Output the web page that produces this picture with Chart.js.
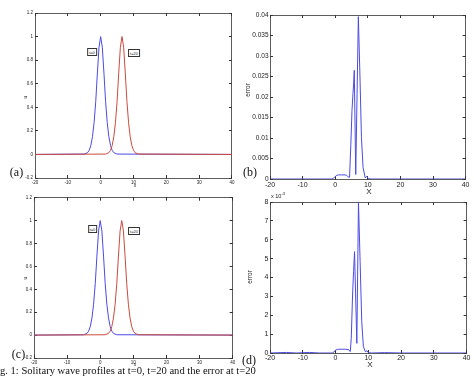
<!DOCTYPE html>
<html>
<head>
<meta charset="utf-8">
<script src="https://cdn.jsdelivr.net/npm/chart.js@4/dist/chart.umd.min.js"></script>
<style>
  html, body { margin:0; padding:0; background:#fff; }
  #root { position:relative; width:474px; height:379px; overflow:hidden; background:#fff; }
  canvas { position:absolute; }
  .t { position:absolute; white-space:nowrap; transform:translate(-50%,-50%); color:#222; line-height:1; }
  .serif { font-family:"Liberation Serif","Times New Roman",serif; color:#111; }
  .sans { font-family:"Liberation Sans",Arial,sans-serif; }
  .rot { transform:translate(-50%,-50%) rotate(-90deg); }
  .box { border:0.8px solid #333; padding:0.5px 1px; font-size:4px; background:#fff; }
</style>
</head>
<body>
<div id="root">
  <canvas id="ca" width="240" height="190" style="left:0;top:0"></canvas>
  <canvas id="cb" width="237" height="190" style="left:237px;top:0"></canvas>
  <canvas id="cc" width="240" height="189" style="left:0;top:190px"></canvas>
  <canvas id="cd" width="237" height="189" style="left:237px;top:190px"></canvas>

  <div class="t sans" style="left:92px;top:48.5px"><span class="box">t=0</span></div>
  <div class="t sans" style="left:134px;top:49.5px"><span class="box">t=20</span></div>
  <div class="t sans" style="left:92.5px;top:225.5px"><span class="box">t=0</span></div>
  <div class="t sans" style="left:134px;top:227px"><span class="box">t=20</span></div>

  <div class="t sans rot" style="left:25px;top:97px;font-size:5px">u</div>
  <div class="t sans" style="left:135px;top:184.5px;font-size:5px">x</div>
  <div class="t sans rot" style="left:25px;top:278px;font-size:5px">u</div>
  <div class="t sans" style="left:135px;top:364px;font-size:5px">x</div>

  <div class="t sans rot" style="left:248px;top:90px;font-size:6.5px">error</div>
  <div class="t sans" style="left:369px;top:192px;font-size:8px">X</div>
  <div class="t sans rot" style="left:250px;top:277px;font-size:6.5px">error</div>
  <div class="t sans" style="left:370px;top:365px;font-size:8px">X</div>
  <div class="t sans" style="left:278px;top:196px;font-size:5.5px">x 10<sup style="font-size:4px">-3</sup></div>

  <div class="t serif" style="left:16.5px;top:172px;font-size:12px">(a)</div>
  <div class="t serif" style="left:250px;top:172px;font-size:12px">(b)</div>
  <div class="t serif" style="left:18.5px;top:354px;font-size:12px">(c)</div>
  <div class="t serif" style="left:249px;top:360px;font-size:12px">(d)</div>

  <div id="cap" class="serif" style="position:absolute;left:0;top:366px;white-space:nowrap;font-size:12px;line-height:1;">g. 1: Solitary wave profiles at t=0, t=20 and the error at t=20</div>
</div>
<script>
// ---------------- data ----------------
const xTicks = [-20, -10, 0, 10, 20, 30, 40];
const xTickLabels = ['-20', '-10', '0', '10', '20', '30', '40'];

const uTicks = [-0.2, 0, 0.2, 0.4, 0.6, 0.8, 1, 1.2];
const uTickLabels = ['-0.2', '0', '0.2', '0.4', '0.6', '0.8', '1', '1.2'];

const errTicksB = [0, 0.005, 0.01, 0.015, 0.02, 0.025, 0.03, 0.035, 0.04];
const errTickLabelsB = ['0', '0.005', '0.01', '0.015', '0.02', '0.025', '0.03', '0.035', '0.04'];

const errTicksD = [0, 1, 2, 3, 4, 5, 6, 7, 8];
const errTickLabelsD = ['0', '1', '2', '3', '4', '5', '6', '7', '8'];

// solitary wave profile, t = 0
const waveX_t0 = [-20, -5, -4, -3.5, -3, -2.5, -2, -1.5, -1, -0.5, 0, 0.5, 1, 1.5, 2, 2.5, 3, 3.5, 4, 5, 40];
const waveU_t0 = [0, 0.003, 0.015, 0.035, 0.075, 0.15, 0.27, 0.45, 0.69, 0.91, 1, 0.91, 0.69, 0.45, 0.27, 0.15, 0.075, 0.035, 0.015, 0.003, 0];
// solitary wave profile, t = 20
const waveX_t20 = [-20, 1.5, 2.5, 3, 3.5, 4, 4.5, 5, 5.5, 6, 6.5, 7, 7.5, 8, 8.5, 9, 9.5, 10, 10.5, 11.5, 40];
const waveU_t20 = [0, 0.003, 0.015, 0.035, 0.075, 0.15, 0.27, 0.45, 0.69, 0.91, 1, 0.91, 0.69, 0.45, 0.27, 0.15, 0.075, 0.035, 0.015, 0.003, 0];

// error at t = 20, panel (b)
const errX_b = [-20, -1, -0.5, 0, 0.5, 1, 2, 3, 3.5, 4, 4.4, 4.8, 5.15, 5.45, 5.65, 5.85, 6.3, 7.1, 7.6, 8.05, 8.55, 9.2, 9.7, 10.2, 11, 40];
const errY_b = [0, 0, 0.0002, 0.0006, 0.0009, 0.001, 0.001, 0.001, 0.0009, 0.0005, 0.0004, 0.0085, 0.0167, 0.0208, 0.0232, 0.0265, 0.0011, 0.0396, 0.0249, 0.0101, 0.0028, 0.0003, 0.0006, 0.0001, 0, 0];

// error at t = 20, panel (d)  (units of 1e-3)
const errX_d = [-20, -15, -12, -8, -5, -1, -0.5, 0, 0.5, 1, 2, 3, 4, 4.3, 4.5, 4.8, 5.2, 5.5, 5.8, 6.5, 7.0, 7.5, 8.0, 8.5, 9.1, 9.6, 10, 11, 15, 20, 40];
const errY_d = [0, 0.03, 0, 0.03, 0, 0, 0.05, 0.15, 0.19, 0.2, 0.2, 0.2, 0.18, 0.1, 0.07, 0.78, 3.07, 4.31, 5.37, 0.51, 8.0, 4.84, 1.66, 0.34, 0.07, 0.12, 0.02, 0, 0.02, 0, 0];

// ---------------- helpers ----------------
const BLUE = '#4b4be4';
const RED = '#cc4b3c';
const AXIS = '#333';

function pts(xs, ys) { return xs.map((x, i) => ({ x: x, y: ys[i] })); }

function setTicks(vals) {
  return function (scale) { scale.ticks = vals.map(v => ({ value: v })); };
}

function makeChart(id, cfg) {
  const fontAxis = { family: 'Liberation Sans, Arial, sans-serif', size: cfg.fontSize };
  const fontAxisX = { family: 'Liberation Sans, Arial, sans-serif', size: cfg.fontSizeX || cfg.fontSize };
  const gridBase = { drawOnChartArea: false, drawTicks: true, tickLength: -3, color: AXIS, lineWidth: 1 };
  const border = { display: true, color: AXIS, width: 0.8 };
  const pad = Object.assign({}, cfg.padding);
  const chart = new Chart(document.getElementById(id), {
    type: 'line',
    data: { datasets: cfg.datasets.map(d => ({
      data: d.data, borderColor: d.color, borderWidth: 1, pointRadius: 0, tension: 0, fill: false
    })) },
    options: {
      responsive: false, animation: false, devicePixelRatio: 1,
      layout: { padding: pad },
      plugins: { legend: { display: false }, tooltip: { enabled: false } },
      scales: {
        x: {
          type: 'linear', position: 'bottom', min: -20, max: 40,
          afterBuildTicks: setTicks(xTicks),
          afterFit: s => { s.height = cfg.xH; },
          grid: gridBase, border: border,
          ticks: { autoSkip: false, maxRotation: 0, padding: cfg.xPad, color: '#222', font: fontAxisX,
                   callback: (v, i) => xTickLabels[i] }
        },
        x2: {
          type: 'linear', position: 'top', min: -20, max: 40,
          afterBuildTicks: setTicks(xTicks),
          afterFit: s => { s.height = 0; },
          grid: gridBase, border: border,
          ticks: { display: false }
        },
        y: {
          type: 'linear', position: 'left', min: cfg.yMin, max: cfg.yMax,
          afterBuildTicks: setTicks(cfg.yTicks),
          afterFit: s => { s.width = cfg.yW; },
          grid: gridBase, border: border,
          ticks: { autoSkip: false, padding: cfg.yPad, color: '#222', font: fontAxis,
                   callback: (v, i) => cfg.yLabels[i] }
        },
        y2: {
          type: 'linear', position: 'right', min: cfg.yMin, max: cfg.yMax,
          afterBuildTicks: setTicks(cfg.yTicks),
          afterFit: s => { s.width = 0; },
          grid: gridBase, border: border,
          ticks: { display: false }
        }
      }
    }
  });
  // nudge the layout so the plot box lands on the target rectangle
  const tgt = cfg.area;
  for (let k = 0; k < 3; k++) {
    const a = chart.chartArea;
    const dl = tgt.left - a.left, dt = tgt.top - a.top, dr = a.right - tgt.right, db = a.bottom - tgt.bottom;
    if (Math.abs(dl) < 0.01 && Math.abs(dt) < 0.01 && Math.abs(dr) < 0.01 && Math.abs(db) < 0.01) break;
    pad.left = Math.max(0, pad.left + dl);
    pad.top = Math.max(0, pad.top + dt);
    pad.right = Math.max(0, pad.right + dr);
    pad.bottom = Math.max(0, pad.bottom + db);
    chart.options.layout.padding = Object.assign({}, pad);
    chart.update('none');
  }
  return chart;
}

// (a)  red (t=20) drawn on top, as in the reference
makeChart('ca', {
  area: { left: 35, top: 13, right: 236, bottom: 178 },
  padding: { top: 13, right: 4, left: 0, bottom: 0 }, yW: 35, xH: 12,
  yMin: -0.2, yMax: 1.2, yTicks: uTicks, yLabels: uTickLabels,
  fontSize: 4.5, xPad: 5.5, yPad: 5,
  datasets: [ { data: pts(waveX_t20, waveU_t20), color: RED }, { data: pts(waveX_t0, waveU_t0), color: BLUE } ]
});
// (b)
makeChart('cb', {
  area: { left: 33, top: 15, right: 231, bottom: 179 },
  padding: { top: 15, right: 6, left: 0, bottom: 0 }, yW: 33, xH: 11,
  yMin: 0, yMax: 0.04, yTicks: errTicksB, yLabels: errTickLabelsB,
  fontSize: 6.5, fontSizeX: 7, xPad: 4.5, yPad: 4.5,
  datasets: [ { data: pts(errX_b, errY_b), color: BLUE } ]
});
// (c)
makeChart('cc', {
  area: { left: 34, top: 6, right: 235, bottom: 168 },
  padding: { top: 6, right: 5, left: 0, bottom: 0 }, yW: 34, xH: 21,
  yMin: -0.2, yMax: 1.2, yTicks: uTicks, yLabels: uTickLabels,
  fontSize: 4.5, xPad: 4.8, yPad: 5,
  datasets: [ { data: pts(waveX_t20, waveU_t20), color: RED }, { data: pts(waveX_t0, waveU_t0), color: BLUE } ]
});
// (d)
makeChart('cd', {
  area: { left: 33, top: 12, right: 231, bottom: 163 },
  padding: { top: 12, right: 6, left: 0, bottom: 0 }, yW: 33, xH: 26,
  yMin: 0, yMax: 8, yTicks: errTicksD, yLabels: errTickLabelsD,
  fontSize: 7, fontSizeX: 7, xPad: 3.5, yPad: 4.5,
  datasets: [ { data: pts(errX_d, errY_d), color: BLUE } ]
});

// fit caption width to the reference (about 256px)
const cap = document.getElementById('cap');
const w = cap.getBoundingClientRect().width;
if (w > 0) cap.style.fontSize = (12 * 256 / w).toFixed(2) + 'px';
</script>
</body>
</html>
